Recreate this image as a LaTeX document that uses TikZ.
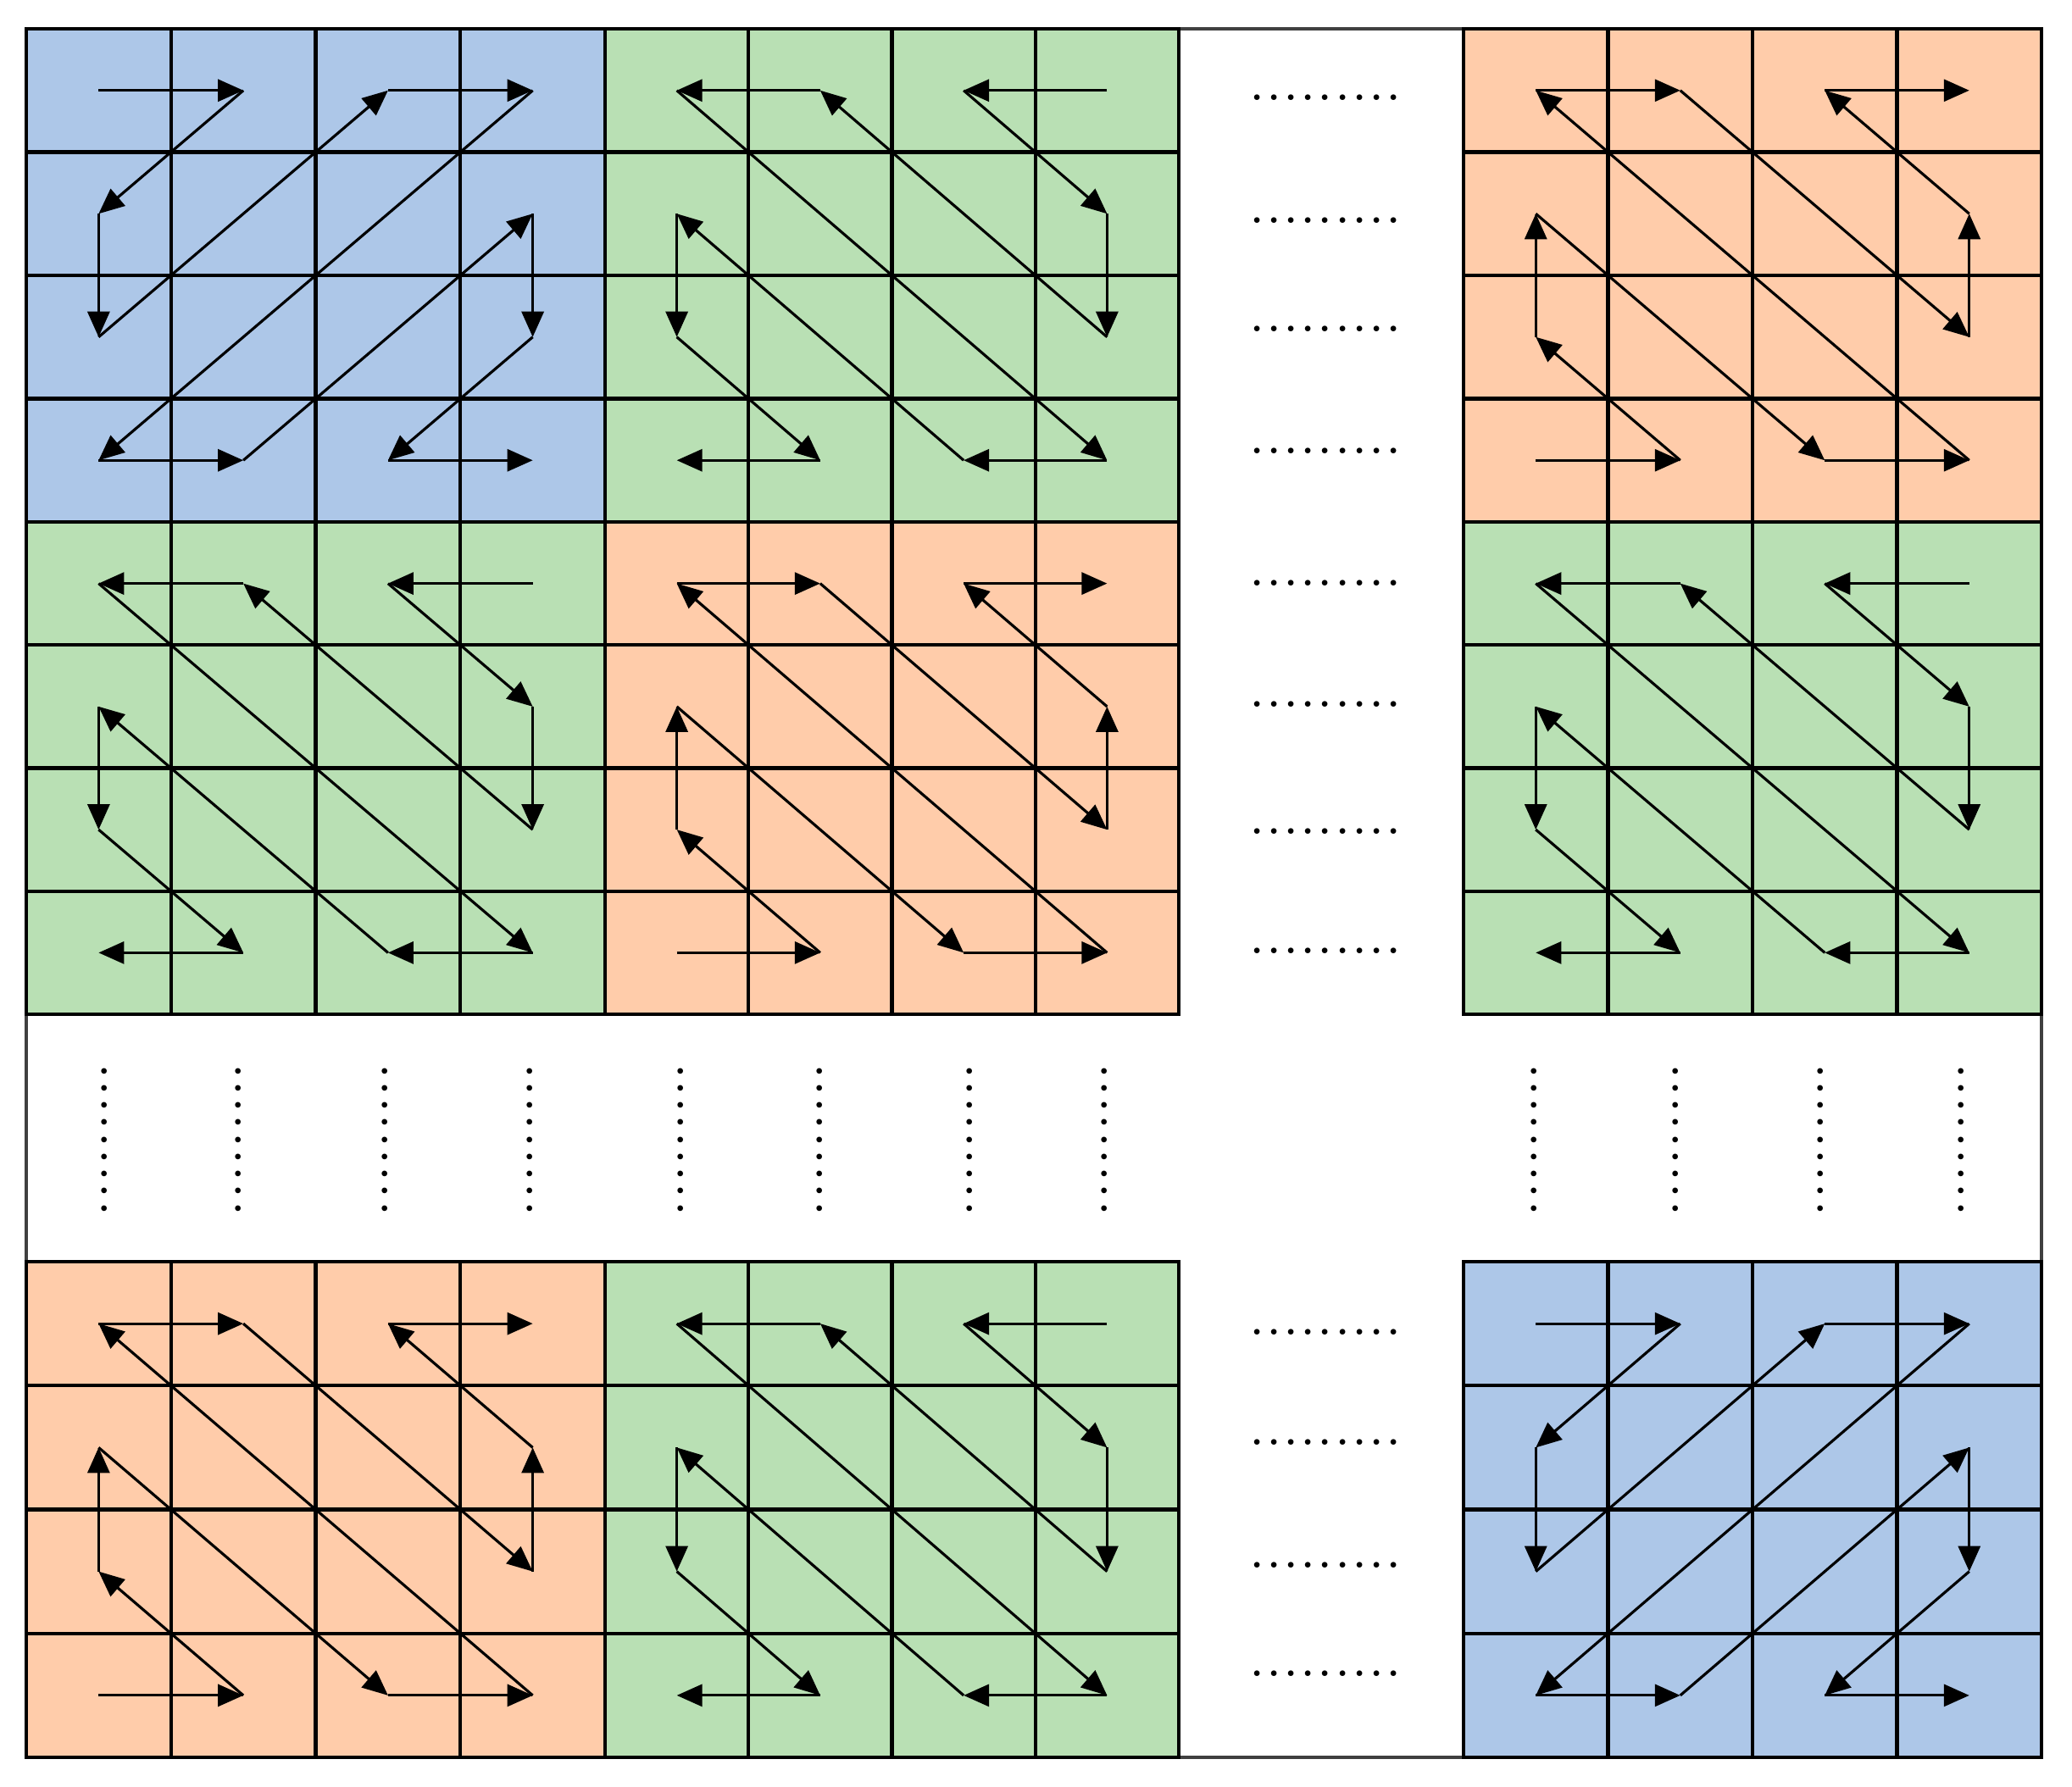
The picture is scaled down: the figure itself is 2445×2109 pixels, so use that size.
\documentclass[tikz,border=0pt]{standalone}
\usetikzlibrary{arrows.meta}

\definecolor{zblue}{RGB}{173,199,232}
\definecolor{zgreen}{RGB}{185,224,180}
\definecolor{zorange}{RGB}{255,204,170}

\tikzset{
  cellgrid/.style={line width=1.2pt,black},
  scan/.style={line width=0.9pt,-{Triangle[length=0.3cm,width=0.26cm]}},
  gapdots/.style={inner sep=0pt,font=\fontsize{23}{23}\selectfont}
}

% 4x4 block: name, top left, bottom right, colour, flip columns, flip rows
\newcommand{\scanblock}[8]{
  \fill[#6] (#2,#3) rectangle (#4,#5);
  \foreach \k in {1,2,3}{
    \draw[cellgrid] ({#2+\k*(#4-#2)/4},#3) -- ({#2+\k*(#4-#2)/4},#5);
    \draw[cellgrid] (#2,{#3+\k*(#5-#3)/4}) -- (#4,{#3+\k*(#5-#3)/4});
  }
  \draw[cellgrid] (#2,#3) rectangle (#4,#5);
  % cell centres in scan order
  \foreach \r in {0,...,3}
    \foreach \c in {0,...,3}{
      \pgfmathsetmacro{\px}{#2+((#7==1 ? 3-\c : \c)+0.5)*(#4-#2)/4}
      \pgfmathsetmacro{\py}{#3+((#8==1 ? 3-\r : \r)+0.5)*(#5-#3)/4}
      \coordinate (#1-\r\c) at (\px,\py);
    }
  \foreach \p/\q in {00/01,01/10,10/20,20/02,02/03,03/30,30/31,31/13,13/23,23/32,32/33}
    \draw[scan] (#1-\p) -- (#1-\q);
}

\begin{document}
\begin{tikzpicture}[x=0.01cm,y=-0.01cm]
        \useasboundingbox (0,0) rectangle (2445,2109);
        % frame
        \draw[line width=1.4pt,black!75] (31,34) rectangle (2409,2074);
        % blocks
        \scanblock{b11}{31}{34}{714}{616}{zblue}{0}{0}
        \scanblock{b12}{714}{34}{1391}{616}{zgreen}{1}{0}
        \scanblock{b13}{1727}{34}{2409}{616}{zorange}{0}{1}
        \scanblock{b21}{31}{616}{714}{1197}{zgreen}{1}{0}
        \scanblock{b22}{714}{616}{1391}{1197}{zorange}{0}{1}
        \scanblock{b23}{1727}{616}{2409}{1197}{zgreen}{1}{0}
        \scanblock{b31}{31}{1489}{714}{2074}{zorange}{0}{1}
        \scanblock{b32}{714}{1489}{1391}{2074}{zgreen}{1}{0}
        \scanblock{b33}{1727}{1489}{2409}{2074}{zblue}{0}{0}
        % dots
        \foreach \y [count=\n] in {115,260,388,532,688,831,981,1122,1572,1702,1847,1975}
          \node[gapdots] (hd\n) at (1564,\y) {.........};
        \foreach \x [count=\n] in {123,281,454,625,803,967,1144,1303,1810,1977,2148,2314}
          \node[gapdots,rotate=90] (vd\n) at (\x,1345) {.........};
\end{tikzpicture}
\end{document}
